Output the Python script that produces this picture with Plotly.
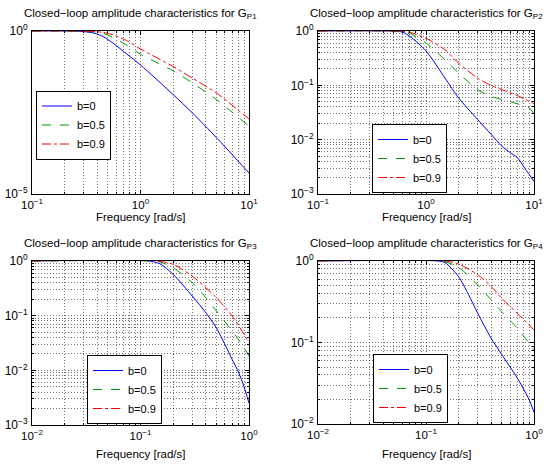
import plotly.graph_objects as go

# frequency [rad/s] and closed-loop amplitude
# G_P1
p1_b0_w = [0.1, 0.2, 0.3, 0.38, 0.452, 0.56, 0.743, 1.0, 2.0, 3.0, 5.0, 10.0]
p1_b0_mag = [1, 1, 0.955, 0.85, 0.676, 0.42, 0.20, 0.091, 0.0112, 0.0031, 5.4e-4, 4.4e-5]
p1_b05_w = [0.1, 0.2, 0.3, 0.452, 0.56, 0.743, 1.0, 2.0, 3.0, 5.0, 10.0]
p1_b05_mag = [1, 1, 0.98, 0.85, 0.63, 0.37, 0.195, 0.060, 0.0257, 0.0079, 0.0012]
p1_b09_w = [0.1, 0.2, 0.3, 0.452, 0.56, 0.743, 1.0, 2.0, 3.0, 5.0, 10.0]
p1_b09_mag = [1, 1, 0.99, 0.91, 0.76, 0.51, 0.28, 0.081, 0.036, 0.0126, 0.0020]

# G_P2
p2_b0_w = [0.1, 0.45, 0.6, 0.713, 1.0, 1.5, 2.0, 3.0, 4.0, 5.0, 6.0, 7.0, 8.3, 10.0]
p2_b0_mag = [1, 1, 0.96, 0.79, 0.43, 0.136, 0.059, 0.0236, 0.0126, 0.0077, 0.0058, 0.0047, 0.0029, 0.0017]
p2_b05_w = [0.1, 0.45, 0.7, 1.0, 1.5, 2.0, 3.0, 4.0, 5.0, 7.0, 9.0, 10.0]
p2_b05_mag = [1, 1, 0.91, 0.60, 0.295, 0.169, 0.0835, 0.063, 0.055, 0.0457, 0.0386, 0.030]
p2_b09_w = [0.1, 0.5, 0.7, 1.0, 1.5, 2.0, 3.0, 4.0, 5.0, 7.0, 10.0]
p2_b09_mag = [1, 1, 0.95, 0.735, 0.45, 0.257, 0.136, 0.100, 0.0835, 0.0649, 0.0457]

# G_P3
p3_b0_w = [0.01, 0.12, 0.151, 0.2, 0.3, 0.4, 0.5, 0.7, 0.8, 0.9, 1.0]
p3_b0_mag = [1, 1, 0.89, 0.57, 0.229, 0.1135, 0.060, 0.0158, 0.0093, 0.005, 0.0025]
p3_b05_w = [0.01, 0.13, 0.151, 0.2, 0.3, 0.4, 0.5, 0.7, 0.9, 1.0]
p3_b05_mag = [1, 1, 0.965, 0.755, 0.40, 0.214, 0.122, 0.0525, 0.026, 0.0183]
p3_b09_w = [0.01, 0.14, 0.2, 0.3, 0.4, 0.5, 0.7, 0.9, 1.0]
p3_b09_mag = [1, 1, 0.87, 0.53, 0.325, 0.214, 0.0986, 0.0457, 0.032]

# G_P4
p4_b0_w = [0.01, 0.13, 0.15, 0.2, 0.247, 0.3, 0.4, 0.5, 0.7, 0.9, 1.0]
p4_b0_mag = [1, 1, 0.955, 0.646, 0.39, 0.231, 0.1135, 0.072, 0.0366, 0.020, 0.0139]
p4_b05_w = [0.01, 0.14, 0.2, 0.3, 0.4, 0.5, 0.7, 0.9, 1.0]
p4_b05_mag = [1, 1, 0.836, 0.51, 0.335, 0.24, 0.15, 0.098, 0.081]
p4_b09_w = [0.01, 0.15, 0.2, 0.3, 0.4, 0.5, 0.7, 0.9, 1.0]
p4_b09_mag = [1, 1, 0.92, 0.68, 0.49, 0.35, 0.229, 0.164, 0.143]

labels = ["b=0", "b=0.5", "b=0.9"]
titles = ["P1", "P2", "P3", "P4"]

panels = [
    [(p1_b0_w, p1_b0_mag), (p1_b05_w, p1_b05_mag), (p1_b09_w, p1_b09_mag)],
    [(p2_b0_w, p2_b0_mag), (p2_b05_w, p2_b05_mag), (p2_b09_w, p2_b09_mag)],
    [(p3_b0_w, p3_b0_mag), (p3_b05_w, p3_b05_mag), (p3_b09_w, p3_b09_mag)],
    [(p4_b0_w, p4_b0_mag), (p4_b05_w, p4_b05_mag), (p4_b09_w, p4_b09_mag)],
]

colors = ["#0000ff", "#009900", "#ff0000"]
dashes = ["solid", "dash", "dashdot"]

W, H = 550, 470
# plot boxes in pixels: left, right, top, bottom
boxes = [(32, 249, 31, 194), (318, 534, 31, 194), (32, 249, 261, 425), (318, 534, 261, 424)]
xranges = [(-1, 1), (-1, 1), (-2, 0), (-2, 0)]
yranges = [(-5, 0), (-3, 0), (-3, 0), (-2, 0)]
# legend box: left edge, anchor y, vertical anchor
legpos = [(36, 125, "middle"), (372, 193, "bottom"), (87, 424, "bottom"), (373, 423, "bottom")]
title_y = [14, 14, 244, 244]
xlab_y = [216.5, 216.5, 454, 454]

FONT = "Liberation Sans, Arial, Helvetica, sans-serif"
GRID = "rgba(0,0,0,0.55)"


def sup(e):
    return "10<sup>%s</sup>" % str(e).replace("-", "\u2212")


def decades(lo, hi):
    return [10.0 ** e for e in range(lo, hi + 1)]


def minors(lo, hi):
    return [m * 10.0 ** e for e in range(lo, hi) for m in range(2, 10)]


fig = go.Figure()
layout = dict(
    width=W, height=H, margin=dict(l=0, r=0, t=0, b=0, autoexpand=False),
    paper_bgcolor="white", plot_bgcolor="white",
    font=dict(family=FONT, size=11, color="black"),
    annotations=[],
)

for i, curves in enumerate(panels):
    n = "" if i == 0 else str(i + 1)
    leg = "legend" + n
    for j, (w, mag) in enumerate(curves):
        fig.add_trace(go.Scatter(
            x=w, y=mag, mode="lines", name=labels[j],
            line=dict(color=colors[j], dash=dashes[j], width=1, shape="spline", smoothing=0.7),
            xaxis="x" + n, yaxis="y" + n, legend=leg,
        ))

    l, r, t, b = boxes[i]
    x0, x1 = xranges[i]
    y0, y1 = yranges[i]
    xticks = decades(x0, x1)
    if i == 0:
        yticks = [1e-5, 1]
        ytext = [sup(-5), sup(0)]
        yminor = dict(ticks="", showgrid=False)
        ygrid = False
    else:
        yticks = decades(y0, y1)
        ytext = [sup(e) for e in range(y0, y1 + 1)]
        yminor = dict(tickmode="array", tickvals=minors(y0, y1), ticks="inside", ticklen=2,
                      tickcolor="black", showgrid=True, gridcolor=GRID, griddash="1px,2px", gridwidth=1)
        ygrid = True

    layout["xaxis" + n] = dict(
        type="log", range=[x0, x1], domain=[l / W, r / W], automargin=False,
        anchor="y" + n, tickmode="array", tickvals=xticks,
        ticktext=[sup(e) for e in range(x0, x1 + 1)],
        ticks="inside", ticklen=4, tickcolor="black",
        showline=True, linecolor="black", linewidth=1, mirror="allticks",
        showgrid=True, gridcolor=GRID, griddash="1px,2px", gridwidth=1,
        minor=dict(tickmode="array", tickvals=minors(x0, x1), ticks="inside", ticklen=2,
                   tickcolor="black", showgrid=True, gridcolor=GRID, griddash="1px,2px", gridwidth=1),
        zeroline=False, tickfont=dict(size=11.5), ticklabelstandoff=0,
    )
    layout["yaxis" + n] = dict(
        type="log", range=[y0, y1], domain=[1 - b / H, 1 - t / H], automargin=False,
        anchor="x" + n, tickmode="array", tickvals=yticks, ticktext=ytext,
        ticks="inside", ticklen=4, tickcolor="black",
        showline=True, linecolor="black", linewidth=1, mirror="allticks",
        showgrid=ygrid, gridcolor=GRID, griddash="1px,2px", gridwidth=1,
        minor=yminor, zeroline=False, tickfont=dict(size=12), ticklabelstandoff=1,
    )
    lx, ly, lanchor = legpos[i]
    layout[leg] = dict(
        x=lx / W, y=1 - ly / H, xref="paper", yref="paper",
        xanchor="left", yanchor=lanchor,
        bgcolor="white", bordercolor="black", borderwidth=1,
        font=dict(size=11), tracegroupgap=0,
    )
    layout["annotations"].append(dict(
        text="Closed\u2212loop amplitude characteristics for G<sub>%s</sub>" % titles[i],
        x=(l + r) / 2 / W, y=1 - title_y[i] / H, xref="paper", yref="paper",
        xanchor="center", yanchor="middle", showarrow=False,
        font=dict(size=11.5),
    ))
    layout["annotations"].append(dict(
        text="Frequency [rad/s]",
        x=(l + r) / 2 / W, y=1 - xlab_y[i] / H, xref="paper", yref="paper",
        xanchor="center", yanchor="middle", showarrow=False,
        font=dict(size=11.5),
    ))

fig.update_layout(**layout)
# drop the browser's default 8px page margin so the figure sits at the window's corner
fig.write_html("out.html", config={"displayModeBar": False},
               post_script="document.body.style.margin='0';")
